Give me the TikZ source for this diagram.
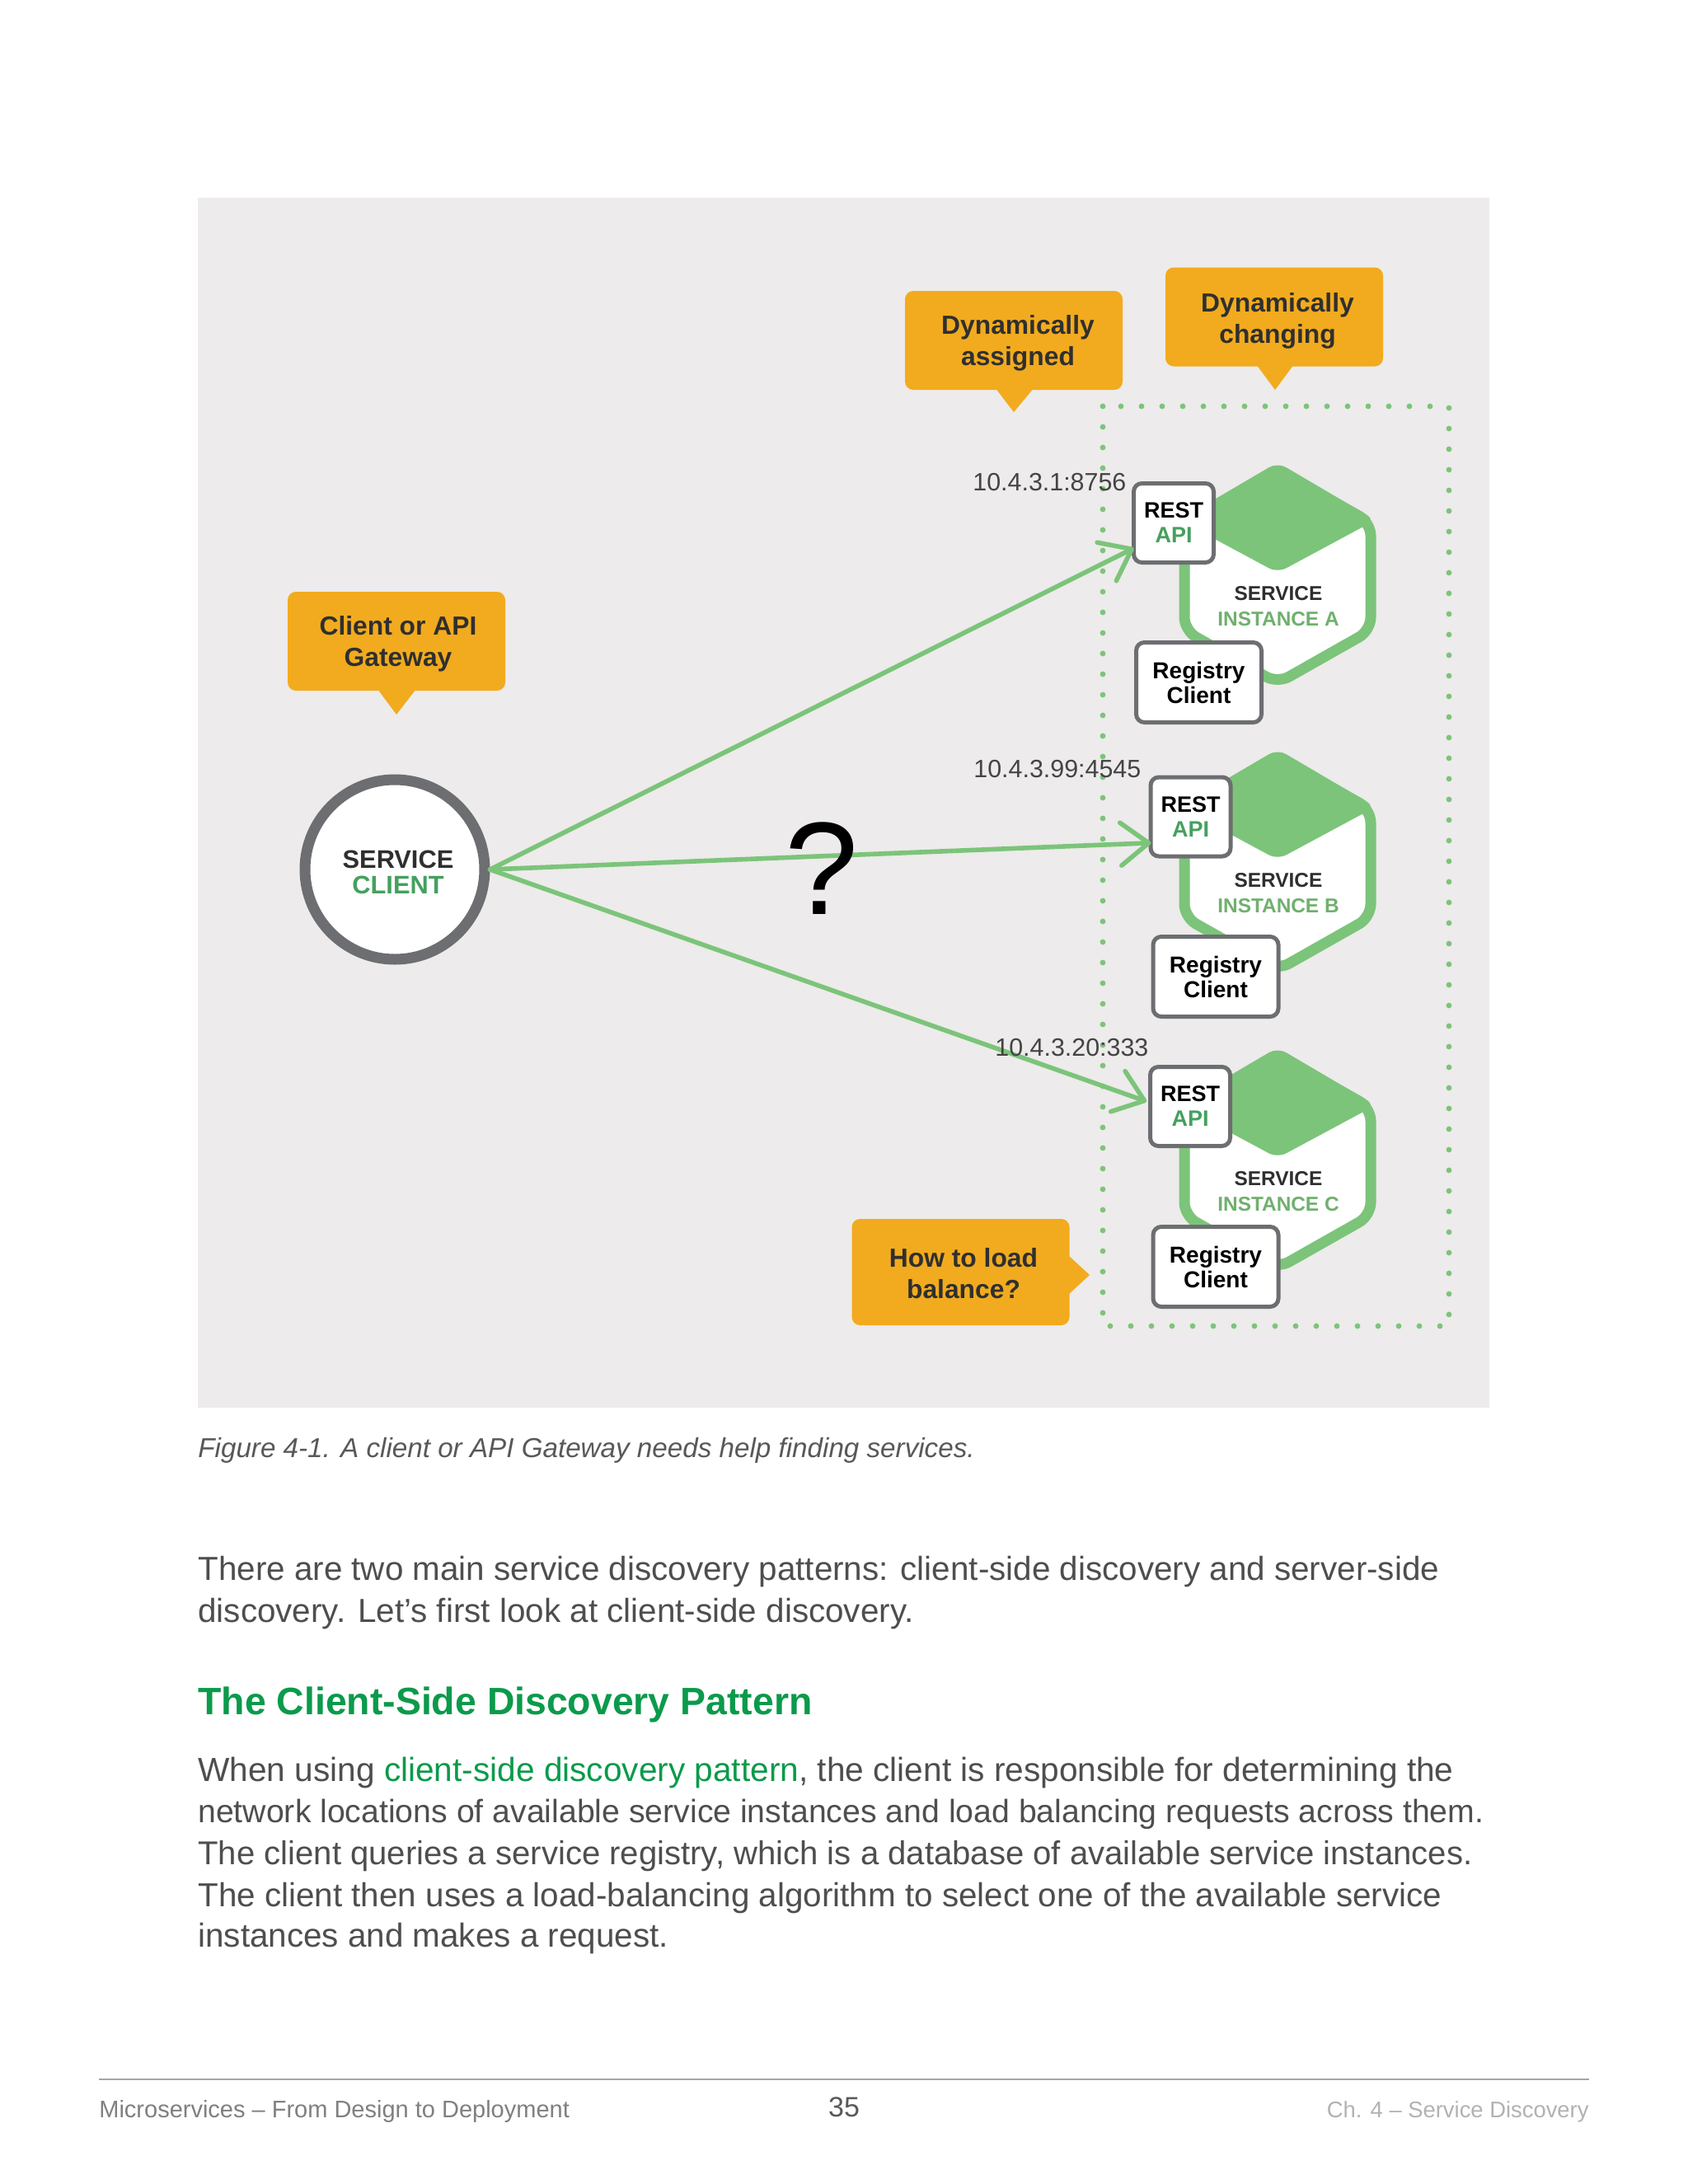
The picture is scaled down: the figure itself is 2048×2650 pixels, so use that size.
\documentclass[tikz,border=0pt]{standalone}
\usepackage{fontspec}
\usepackage{xcolor}
\usepackage{tikz}
\usetikzlibrary{arrows.meta,positioning}
\setmainfont{Liberation Sans}
\definecolor{msgreen}{HTML}{7CC47A}
\definecolor{msdeep}{HTML}{45A05F}
\definecolor{mstitle}{HTML}{0B9A4B}
\definecolor{msorange}{HTML}{F2AB1E}
\definecolor{mspanel}{HTML}{EDEBEB}
\definecolor{msgrey}{HTML}{6D6E71}
\definecolor{msink}{HTML}{2F2F2F}
\newcommand{\fsz}[2]{\fontsize{#1}{#2}\selectfont}
\begin{document}
\begin{tikzpicture}[
  x=0.5pt, y=-0.5pt,
  note/.style={fill=msorange, rounded corners=5pt, inner sep=0pt,
               minimum width=132pt, minimum height=60pt},
  notetext/.style={align=center, text=msink, inner sep=0pt, font=\fsz{15.9}{19}\bfseries},
  tipfill/.style={fill=msorange},
  apibox/.style={draw=msgrey, line width=2.5pt, fill=white, rounded corners=5pt, align=center,
               inner sep=0pt, minimum width=48.5pt, minimum height=48pt, font=\fsz{13.5}{15}\bfseries},
  regbox/.style={apibox, minimum width=76pt, minimum height=48.5pt, font=\fsz{14}{15}\bfseries},
  hexline/.style={draw=msgreen, fill=white, line width=6.5pt, rounded corners=8pt},
  hexfill/.style={fill=msgreen, rounded corners=6pt},
  hextext/.style={align=center, inner sep=0pt, text=msink, font=\fsz{12.2}{15.5}\bfseries},
  client/.style={circle, draw=msgrey, fill=white, line width=6.5pt, inner sep=0pt, minimum size=109pt},
  clienttext/.style={align=center, inner sep=0pt, text=msink, font=\fsz{15.4}{15.5}\bfseries},
  wire/.style={draw=msgreen, line width=2.8pt, line cap=round, shorten >=-1.5pt,
               -{Straight Barb[length=17pt, width=26pt, line width=2.8pt, round]}},
  addr/.style={anchor=west, inner sep=0pt, text=msink!90, font=\fsz{15.2}{15}},
  body/.style={anchor=west, inner sep=0pt, text=msink!85, font=\fsz{20.2}{22}},
  foot/.style={inner sep=0pt, font=\fsz{13.7}{15}},
]
\fill[white] (0,0) rectangle (2048,2650);
\fill[mspanel] (240,240) rectangle (1807,1708);
\draw[msgreen, line width=3.4pt, line cap=round, dash pattern=on 0pt off 12.5pt]
  (1338,493) rectangle (1758,1609);

\foreach \dy/\tag in {0/A,348/B,710/C}{
  \begin{scope}[shift={(0,\dy)}]
    \draw[hexline] (1550,571) -- (1663,634) -- (1663,765) -- (1550,829) -- (1437,765) -- (1437,634) -- cycle;
    \fill[hexfill] (1550,561) -- (1669,631) -- (1550,695) -- (1431,631) -- cycle;
    \node[hextext] (inst\tag) at (1551,736) {SERVICE\\ \textcolor{msgreen!90!black}{INSTANCE \tag}};
  \end{scope}
}

\node[client] (svc) at (479,1055) {};
\node[clienttext] (svctext) at (483,1058) {SERVICE\\ \textcolor{msdeep}{CLIENT}};

\node[note] (gateway) at (481,778) {};
\node[notetext] (gatewaytext) at (483,781) {Client or API\\ Gateway};
\fill[tipfill] (458,836) -- (505,836) -- (481,867) -- cycle;
\node[note] (assigned) at (1230,413) {};
\node[notetext] (assignedtext) at (1235,416) {Dynamically\\ assigned};
\fill[tipfill] (1207,470) -- (1255,470) -- (1230,500) -- cycle;
\node[note] (changing) at (1546,384.5) {};
\node[notetext] (changingtext) at (1550,389) {Dynamically\\ changing};
\fill[tipfill] (1524,442) -- (1570,442) -- (1547,473) -- cycle;
\node[note, minimum height=64.5pt] (balance) at (1165.5,1543.5) {};
\node[notetext] (balancetext) at (1169,1545) {How to load\\ balance?};
\fill[tipfill] (1296,1523) -- (1322,1547) -- (1296,1571) -- cycle;

\node[apibox] (restA) at (1424,634.5) {REST\\ \textcolor{msdeep}{API}};
\node[apibox] (restB) at (1444.5,991) {REST\\ \textcolor{msdeep}{API}};
\node[apibox] (restC) at (1444,1342.5) {REST\\ \textcolor{msdeep}{API}};
\node[regbox] (regA) at (1454.5,828) {Registry\\ Client};
\node[regbox] (regB) at (1475,1185) {Registry\\ Client};
\node[regbox] (regC) at (1475,1537) {Registry\\ Client};

\draw[wire] (svc.east) -- (restA.212);
\draw[wire] (svc.east) -- (restB.212);
\draw[wire, shorten >=1pt] (svc.east) -- (restC.174);

\node[inner sep=0pt, font=\fsz{80}{80}] (query) at (997,1054) {?};
\node[addr] (addrA) at (1180,585) {10.4.3.1:8756};
\node[addr] (addrB) at (1181,933) {10.4.3.99:4545};
\node[addr] (addrC) at (1207,1271) {10.4.3.20:333};

\node[anchor=west, inner sep=0pt, text=msink!80, font=\fsz{16.6}{18}\itshape] (caption) at (240,1760)
  {Figure 4-1. A client or API Gateway needs help finding services.};
\node[body] (introA) at (240,1907) {There are two main service discovery patterns: client-side discovery and server-side};
\node[body] (introB) at (240,1958) {discovery. Let’s first look at client-side discovery.};
\node[anchor=west, inner sep=0pt, text=mstitle, font=\fsz{23.2}{25}\bfseries] (title) at (240,2068) {The Client-Side Discovery Pattern};
\node[body, font=\fsz{20.3}{22}] (paraA) at (240,2151) {When using \textcolor{mstitle}{client-side discovery pattern}, the client is responsible for determining the};
\node[body, font=\fsz{19.6}{22}] (paraB) at (240,2201) {network locations of available service instances and load balancing requests across them.};
\node[body, font=\fsz{20.05}{22}] (paraC) at (240,2252) {The client queries a service registry, which is a database of available service instances.};
\node[body] (paraD) at (240,2303) {The client then uses a load-balancing algorithm to select one of the available service};
\node[body] (paraE) at (240,2352) {instances and makes a request.};

\draw[black!35, line width=0.6pt] (120,2523) -- (1928,2523);
\node[foot, anchor=west, text=black!50, font=\fsz{14.5}{15}] (bookname) at (120,2562) {Microservices – From Design to Deployment};
\node[foot, text=black!65, font=\fsz{17}{18}] (pagenum) at (1024,2557) {35};
\node[foot, anchor=east, text=black!30] (chapter) at (1928,2562) {Ch. 4 – Service Discovery};
\end{tikzpicture}
\end{document}
